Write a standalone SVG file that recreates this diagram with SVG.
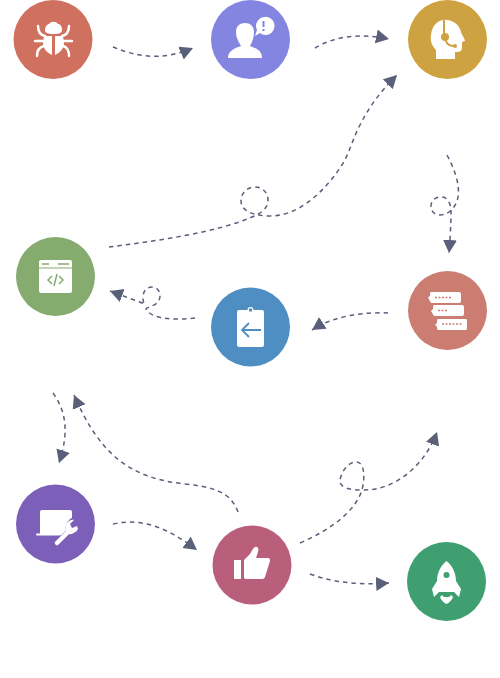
<svg xmlns="http://www.w3.org/2000/svg" width="500" height="678" viewBox="0 0 500 678">
<style>
.c{fill:none;stroke:#5a6079;stroke-width:1.5;stroke-dasharray:4.5 4;marker-end:url(#a)}
.l{fill:none;stroke:#fff;stroke-linecap:round;stroke-linejoin:round}
.w{fill:#fff}
</style>
<defs><marker id="a" markerUnits="userSpaceOnUse" markerWidth="14" markerHeight="15" refX="13" refY="7" orient="auto" viewBox="0 0 14 14"><path d="M0 0L13 7L0 14Z" fill="#5a6079"/></marker></defs>
<rect width="500" height="678" fill="#fff"/>
<g id="connectors">
<path class="c" d="M113 47C135 56 160 62 193 48"/>
<path class="c" d="M315 48C335 36 360 33 389 39"/>
<path class="c" d="M109 247C155 241 215 233 252 217C262 213 268 208 268 200C268 192 262 187 255 187C247 187 241 193 241 201C241 210 252 216 270 216C300 216 325 190 340 168C350 153 352 140 360 125C370 105 382 90 397 75"/>
<path class="c" d="M447 155C455 170 460 185 458 197C456 208 448 215 440 215C434 215 431 211 431 206C431 201 435 197 441 197C447 197 451 202 451 212C451 225 450 240 449 253"/>
<path class="c" d="M388 313C365 312 335 315 312 330"/>
<path class="c" d="M195 318C175 320 152 320 146 309C148 306 160 306 160 296C160 290 156 287 152 287C146 287 143 292 143 297C143 302 144 304 145 304L110 291"/>
<path class="c" d="M53 393C65 410 70 430 59 463"/>
<path class="c" d="M238 512C230 490 210 487 185 484C130 478 100 455 74 395"/>
<path class="c" d="M113 524C145 517 170 530 197 550"/>
<path class="c" d="M300 543C330 530 355 512 362 490C365 478 365 462 356 462C348 462 340 473 340 482C341 488 350 490 362 490C395 491 425 465 437 432"/>
<path class="c" d="M310 574C335 583 360 585 389 583"/>
</g>
<g id="node-bug"><circle cx="53" cy="39.5" r="39.5" fill="#d0705e"/>
<path class="w" d="M45 30C45 26 48 24 49 24C51 21 56 21 58 24C60 24 62 26 62 30C62 33 59 34 53.500 34C48 34 45 33 45 30ZM44 36H52L52 55C47 53 43 48 43 43ZM55 36H63L64 43C64 48 60 53 55 55Z"/>
<path class="l" stroke-width="2.500" d="M38 26C38 31 40 35 45 36M69 26C69 31 67 35 62 36M35 41H44M63 41H72M37 56C37 50 40 47 44 46M69 56C69 50 67 47 63 46"/></g>
<g id="node-person"><circle cx="250.500" cy="39.500" r="39.500" fill="#8385e0"/>
<path class="w" d="M228 58C228 50 236 48 241 46C239 42 236 38 236 32C236 26 240 23 245 23C250 23 254 26 254 32C254 38 252 42 250 46C255 48 262 50 262 58Z"/>
<path class="w" d="M264 17A9 9 0 1 1 260 33L255 36L257 30A9 9 0 0 1 264 17Z"/>
<path d="M263.500 21V27M263.500 29V31" stroke="#8385e0" stroke-width="2"/></g>
<g id="node-headset"><circle cx="447.500" cy="39.500" r="39.500" fill="#cfa241"/>
<path class="w" d="M443 20C450 19 459 23 461 32C462 35 465 39 465 41L462 42V48C462 52 458 52 455 52V59H436V50C432 46 430 41 431 35C432 26 437 21 443 20Z"/>
<path d="M444 20V36M446 41C447 45 450 46 455 46" fill="none" stroke="#cfa241" stroke-width="2"/><circle cx="445" cy="37" r="4" fill="#cfa241"/><circle cx="455" cy="46" r="2" fill="#cfa241"/></g>
<g id="node-code"><circle cx="55.500" cy="276.500" r="39.500" fill="#85ab6f"/>
<rect x="39" y="260" width="33" height="33" rx="2" fill="#fff"/>
<path d="M39 268H72" stroke="#85ab6f" stroke-width="1"/><path d="M42 264H49M58 264H69" stroke="#85ab6f" stroke-width="1.500"/>
<path d="M52 276L48 280L52 284M59 276L63 280L59 284M57 274L54 286" fill="none" stroke="#85ab6f" stroke-width="1.500"/></g>
<g id="node-clipboard"><circle cx="250.500" cy="327" r="39.500" fill="#4e8ec3"/>
<rect x="237" y="310" width="27" height="37" rx="2" fill="#fff"/>
<circle cx="250.500" cy="310" r="3" fill="#fff"/><rect x="249" y="308.500" width="3" height="3" fill="#4e8ec3"/>
<path d="M261 330H242M249 323L242 330L249 337" fill="none" stroke="#4e8ec3" stroke-width="1.800"/></g>
<g id="node-chat"><circle cx="447.500" cy="310.500" r="39.500" fill="#cb7d72"/>
<path class="w" d="M431 292H459Q461 292 461 294V301Q461 303 459 303H431L428 297.500L430 296Q430 292 431 292ZM434 305H462Q464 305 464 307V314Q464 316 462 316H434L431 311L433 309Q433 305 434 305ZM438 319H466Q467 319 467 321V328Q467 330 466 330H438Q437 330 437 327L435 324.500L437 323Q437 319 438 319Z"/>
<path d="M435 297.500H451M438 310.500H448M442 324H462" stroke="#cb7d72" stroke-width="1.500" stroke-dasharray="2 1.500"/></g>
<g id="node-laptop"><circle cx="55.500" cy="524" r="39.500" fill="#7c5fb9"/>
<rect x="40" y="510" width="32" height="25" rx="2" fill="#fff"/>
<path class="l" stroke-width="2" d="M37 534.500H60"/>
<path d="M57 545L70 532C68 526 72 520 78 521" fill="none" stroke="#7c5fb9" stroke-width="8" stroke-linecap="round"/>
<path d="M57 543L68 532" stroke="#fff" stroke-width="4.500" stroke-linecap="round"/>
<path class="w" d="M66 525C67 522 71 519 74 520L70 524L72 528L77 526L78 529C76 533 71 535 67 534C65 532 65 528 66 525Z"/></g>
<g id="node-thumb"><circle cx="252" cy="565" r="39.500" fill="#b95f7c"/>
<rect x="234" y="560" width="7" height="19" fill="#fff"/>
<path class="w" d="M244 560L250 554C252 551 253 548 255 547C258 546 259 549 258 552L256 558H268C270 558 270 560 270 561L265 577C264 579 263 579 261 579H246C244 579 244 578 244 576Z"/></g>
<g id="node-rocket"><circle cx="446.500" cy="581.500" r="39.500" fill="#3f9f70"/>
<path class="w" d="M446.500 561C452 565 456 573 456 581L461 589L459 597L454 592H439L434 597L432 589L437 581C437 573 441 565 446.500 561Z"/>
<path class="w" d="M442 595C443 598 450 598 451 595L453 597C452 600 449 603 446.500 604C444 603 441 600 440 597Z"/>
<circle cx="446.500" cy="575" r="3" fill="#3f9f70"/></g>
</svg>
